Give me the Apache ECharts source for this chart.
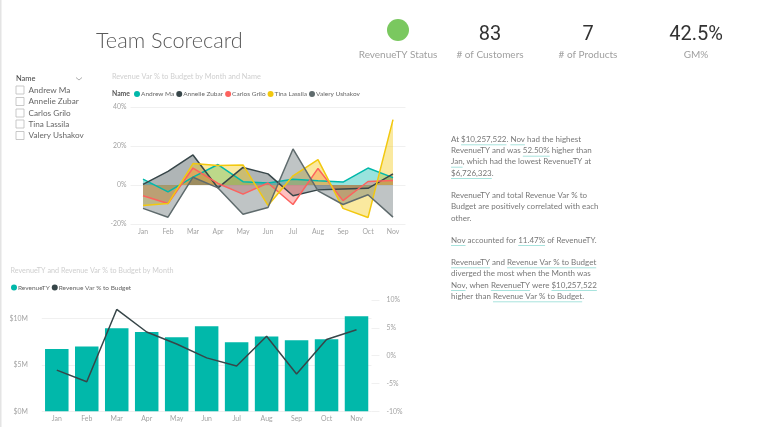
<!DOCTYPE html>
<html>
<head>
<meta charset="utf-8">
<title>Team Scorecard</title>
<script src="https://cdn.jsdelivr.net/npm/echarts@6/dist/echarts.min.js"></script>
<style>
html, body { margin: 0; padding: 0; background: #fff; }
#chart { width: 768px; height: 427px; }
</style>
</head>
<body>
<div id="chart"></div>
<script>
// data
var months = ['Jan', 'Feb', 'Mar', 'Apr', 'May', 'Jun', 'Jul', 'Aug', 'Sep', 'Oct', 'Nov'];
var names = ['Andrew Ma', 'Annelie Zubar', 'Carlos Grilo', 'Tina Lassila', 'Valery Ushakov'];
var andrewMa = [3, -3.5, 4, 10.5, 1.7, 1, 3, 2.2, 1.5, 8.7, 3.8];
var annelieZubar = [0.3, 7, 15.4, -1.5, 9, 5.7, -5.5, -2.5, -2, -1.7, 5.7];
var carlosGrilo = [-5.5, -9.5, 8.7, 0.8, -4.7, 1, -10, 8.5, -8, 1.8, 2.3];
var tinaLassila = [-10.5, -9.5, 11, 10, 10.3, -10.5, 4.7, 13, -12, -16.7, 33.5];
var valeryUshakov = [-12, -16.5, 4, -1.5, -15, -11.5, 18.5, -3, -10, -5, -16.5];
var revenueTY = [6.73, 6.98, 8.96, 8.56, 7.99, 9.17, 7.45, 8.06, 7.66, 7.77, 10.26];
var revenueVar = [-2.6, -4.7, 8.3, 4.25, 2.1, -0.4, -1.85, 3.5, -3.3, 2.9, 4.65];
var nameColors = ['#01B8AA', '#374649', '#FD625E', '#F2C80F', '#5F6B6D'];
var kpiValues = ['83', '7', '42.5%'];
var kpiLabels = ['# of Customers', '# of Products', 'GM%'];

// [..] = underlined word in the insight text
var insightLines = [
    'At [$10,257,522]. [Nov] had the highest',
    'RevenueTY and was [52.50%] higher than',
    '[Jan], which had the lowest RevenueTY at',
    '[$6,726,323].',
    null,
    'RevenueTY and total Revenue Var % to',
    'Budget are positively correlated with each',
    'other.',
    null,
    '[Nov] accounted for [11.47%] of RevenueTY.',
    null,
    '[RevenueTY] and [Revenue Var % to Budget]',
    'diverged the most when the Month was',
    '[Nov], when [RevenueTY] were [$10,257,522]',
    'higher than [Revenue Var % to Budget].'
];

var FONT = 'Lato, "Open Sans", sans-serif';
var graphics = [];

function addText(x, y, text, size, color, align, family, weight) {
    graphics.push({
        type: 'text', x: x, y: y, silent: true,
        style: {
            text: text, fontSize: size, fill: color, fontFamily: family || FONT,
            fontWeight: weight || 'normal', align: align || 'left', verticalAlign: 'middle'
        }
    });
}

// page edge
graphics.push({ type: 'rect', shape: { x: 0, y: 0, width: 1.5, height: 427 }, style: { fill: '#e4e4e4' }, silent: true });

// header
addText(96, 41, 'Team Scorecard', 21.7, '#5a5a5a', 'left', 'Lato', 300);
graphics.push({ type: 'circle', shape: { cx: 398, cy: 30, r: 11 }, style: { fill: '#7AC85F' }, silent: true });
addText(398, 55, 'RevenueTY Status', 10, '#a0a0a0', 'center');
var kpiX = [490, 588, 696];
for (var k = 0; k < kpiValues.length; k++) {
    addText(kpiX[k], 35, kpiValues[k], 20, '#333', 'center', 'Roboto');
    addText(kpiX[k], 55, kpiLabels[k], 10, '#a0a0a0', 'center');
}

// slicer
addText(16, 78.5, 'Name', 7.5, '#444');
graphics.push({
    type: 'polyline', shape: { points: [[76, 77.5], [79, 80], [82, 77.5]] },
    style: { stroke: '#999', fill: 'none', lineWidth: 0.8 }, silent: true
});
var rowY = [90, 101.5, 113, 124, 135.5];
for (var n = 0; n < names.length; n++) {
    graphics.push({
        type: 'rect', shape: { x: 16, y: rowY[n] - 4, width: 8, height: 8 },
        style: { fill: '#fff', stroke: '#bbb', lineWidth: 0.8 }, silent: true
    });
    addText(28.5, rowY[n], names[n], 8.2, '#666');
}

// chart titles
addText(112, 77, 'Revenue Var % to Budget by Month and Name', 7.3, '#cfcfcf');
addText(112, 93.5, 'Name', 6.8, '#555', 'left', FONT, 700);
addText(10.5, 271, 'RevenueTY and Revenue Var % to Budget by Month', 7.2, '#cfcfcf');

// insight text
var insightY = [139.3, 150.7, 161.7, 173, 0, 195.3, 206.7, 218, 0, 240, 0, 262.3, 273.7, 285, 296.3];
var ctx = document.createElement('canvas').getContext('2d');
var insightSize = 8;
ctx.font = insightSize + 'px ' + FONT;
insightLines.forEach(function (line, i) {
    if (!line) return;
    var x = 451;
    line.split(/(\[[^\]]*\])/).forEach(function (part) {
        if (!part) return;
        var underlined = part.charAt(0) === '[';
        var word = underlined ? part.slice(1, -1) : part;
        var w = ctx.measureText(word).width;
        addText(x, insightY[i], word, insightSize, '#777');
        if (underlined) {
            graphics.push({
                type: 'line', shape: { x1: x, y1: insightY[i] + 5.5, x2: x + w, y2: insightY[i] + 5.5 },
                style: { stroke: '#a8e3dd', lineWidth: 1 }, silent: true
            });
        }
        x += w;
    });
});

var lineData = [andrewMa, annelieZubar, carlosGrilo, tinaLassila, valeryUshakov];
var areaSeries = names.map(function (name, i) {
    return {
        name: name, type: 'line', xAxisIndex: 0, yAxisIndex: 0, data: lineData[i],
        symbol: 'none', silent: true,
        lineStyle: { color: nameColors[i], width: 1.5 },
        itemStyle: { color: nameColors[i] },
        areaStyle: { color: nameColors[i], opacity: 0.4 }
    };
});

var axisText = { color: '#a3a3a3', fontSize: 6.9, fontFamily: FONT };
var legendText = { color: '#666', fontSize: 6.5, fontFamily: FONT, padding: [0, 0, 0, -4] };

var option = {
    animation: false,
    backgroundColor: '#fff',
    textStyle: { fontFamily: FONT },
    graphic: graphics,
    legend: [{
        left: 129, top: 85.5, itemWidth: 6, itemHeight: 6, itemGap: 2, icon: 'circle',
        selectedMode: false, data: names, textStyle: legendText
    }, {
        left: 6, top: 279, itemWidth: 6, itemHeight: 6, itemGap: 2, icon: 'circle',
        selectedMode: false, data: ['RevenueTY', 'Revenue Var % to Budget'], textStyle: legendText
    }],
    grid: [
        { left: 130.5, top: 107, width: 275, height: 117 },
        { left: 41.8, top: 300, width: 329.7, height: 111.3 }
    ],
    xAxis: [{
        type: 'category', gridIndex: 0, data: months, position: 'bottom',
        axisLine: { onZero: false, show: false }, axisTick: { show: false },
        axisLabel: Object.assign({ margin: 4 }, axisText)
    }, {
        type: 'category', gridIndex: 1, data: months,
        axisLine: { show: false }, axisTick: { show: false },
        axisLabel: Object.assign({ margin: 4 }, axisText)
    }],
    yAxis: [{
        type: 'value', gridIndex: 0, min: -20, max: 40, interval: 20,
        axisLine: { show: false }, axisTick: { show: false }, splitLine: { show: true, lineStyle: { color: '#f0f0f0' } },
        axisLabel: Object.assign({ margin: 4, formatter: '{value}%' }, axisText)
    }, {
        type: 'value', gridIndex: 1, min: 0, max: 12, interval: 5,
        axisLine: { show: false }, axisTick: { show: false },
        splitLine: { show: true, showMaxLine: false, lineStyle: { color: '#f0f0f0' } },
        axisLabel: Object.assign({ margin: 14, showMaxLabel: false, formatter: '${value}M' }, axisText)
    }, {
        type: 'value', gridIndex: 1, position: 'right', min: -10, max: 10, interval: 5,
        axisLine: { show: false }, splitLine: { show: false },
        axisTick: { show: true, length: 8, lineStyle: { color: '#f0f0f0' } },
        axisLabel: Object.assign({ margin: 15, formatter: '{value}%' }, axisText)
    }],
    series: areaSeries.concat([{
        name: 'RevenueTY', type: 'bar', xAxisIndex: 1, yAxisIndex: 1, data: revenueTY,
        barWidth: 23.5, silent: true, itemStyle: { color: '#01B8AA' }
    }, {
        name: 'Revenue Var % to Budget', type: 'line', xAxisIndex: 1, yAxisIndex: 2, data: revenueVar,
        symbol: 'none', silent: true, z: 5,
        lineStyle: { color: '#374649', width: 1.5 }, itemStyle: { color: '#374649' }
    }])
};

var chart = echarts.init(document.getElementById('chart'), null, { renderer: 'canvas' });
chart.setOption(option);
</script>
</body>
</html>
